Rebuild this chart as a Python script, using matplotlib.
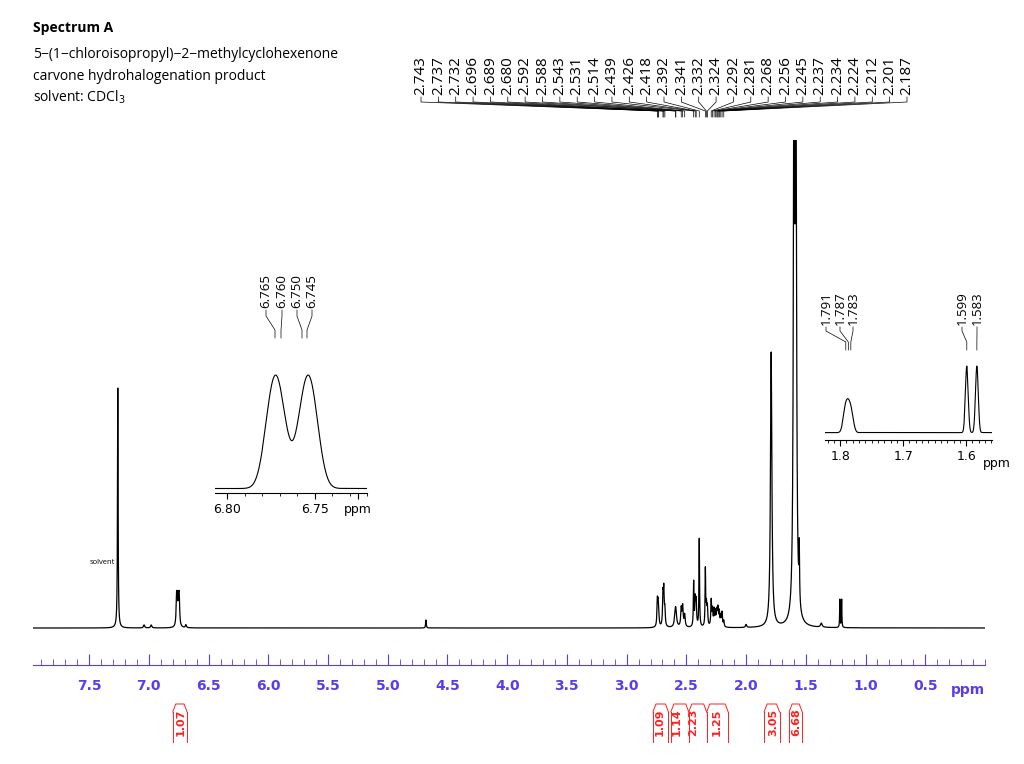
import numpy as np
import matplotlib
matplotlib.use("Agg")
import matplotlib.pyplot as plt

W, H = 1024, 764
# peak list: ppm, height (arbitrary), half width (ppm)
peak_ppm = [7.26, 7.04, 6.98, 6.768, 6.762, 6.752, 6.746, 6.69, 4.68,
            2.743, 2.737, 2.732, 2.696, 2.689, 2.680, 2.592, 2.588, 2.543, 2.531, 2.514,
            2.439, 2.426, 2.418, 2.392, 2.341, 2.332, 2.324, 2.292, 2.281, 2.268, 2.256,
            2.245, 2.237, 2.234, 2.224, 2.212, 2.201, 2.187,
            2.00, 1.79, 1.599, 1.583, 1.555, 1.37, 1.215, 1.200]
peak_h = [240, 3, 3, 26, 22, 22, 26, 3, 8,
          24, 18, 12, 30, 34, 16, 12, 10, 18, 20, 12,
          44, 26, 24, 88, 56, 20, 18, 26, 16, 16, 14,
          14, 10, 10, 14, 10, 14, 6,
          3, 275, 560, 560, 55, 4, 28, 28]
peak_w = [0.003, 0.006, 0.006, 0.0045, 0.0045, 0.0045, 0.0045, 0.005, 0.003,
          0.004, 0.004, 0.004, 0.004, 0.004, 0.004, 0.008, 0.008, 0.005, 0.005, 0.005,
          0.003, 0.004, 0.004, 0.0028, 0.0028, 0.004, 0.004, 0.004, 0.004, 0.004, 0.004,
          0.004, 0.004, 0.004, 0.004, 0.004, 0.004, 0.004,
          0.006, 0.007, 0.006, 0.006, 0.003, 0.008, 0.0022, 0.0022]

# insets (gaussian lineshapes)
insetA_ppm = [6.7745, 6.7695, 6.7565, 6.7515]
insetA_h = [48, 40, 40, 48]
insetA_w = [0.0045, 0.0045, 0.0045, 0.0045]
insetB_ppm = [1.792, 1.787, 1.782, 1.599, 1.583]
insetB_h = [22, 22, 18, 72, 72]
insetB_w = [0.0035, 0.0035, 0.0035, 0.0022, 0.0022]

top_labels = ["2.743", "2.737", "2.732", "2.696", "2.689", "2.680", "2.592", "2.588", "2.543",
              "2.531", "2.514", "2.439", "2.426", "2.418", "2.392", "2.341", "2.332", "2.324",
              "2.292", "2.281", "2.268", "2.256", "2.245", "2.237", "2.234", "2.224", "2.212",
              "2.201", "2.187"]
insetA_labels = ["6.765", "6.760", "6.750", "6.745"]
insetB_labels = ["1.791", "1.787", "1.783", "1.599", "1.583"]
integ_ppm = [6.73, 2.72, 2.58, 2.44, 2.25, 1.77, 1.58]
integ_val = ["1.07", "1.09", "1.14", "2.23", "1.25", "3.05", "6.68"]
integ_ranges = [(6.80, 6.68), (2.78, 2.65), (2.63, 2.48), (2.48, 2.33), (2.33, 2.15), (1.85, 1.72), (1.64, 1.53)]


def spec(x, ps, hs, ws):
    y = np.zeros_like(x)
    for p, h, w in zip(ps, hs, ws):
        y += h / (1 + ((x - p) / w) ** 2)
    return y


def gspec(x, ps, hs, ws):
    y = np.zeros_like(x)
    for p, h, w in zip(ps, hs, ws):
        y += h * np.exp(-0.5 * ((x - p) / w) ** 2)
    return y


def fx(px):
    return px / W


def fy(py):
    return 1 - py / H

fig = plt.figure(figsize=(10.24, 7.64), dpi=100)
PPM_L, PPM_R = 7.97, 0.0
X0, X1 = 33, 985


def ppm2px(p):
    return X0 + (PPM_L - p) / (PPM_L - PPM_R) * (X1 - X0)

# main spectrum
ax = fig.add_axes([fx(X0), fy(640), fx(X1 - X0), (640 - 140) / H])
x = np.linspace(PPM_R, PPM_L, 40000)
y = spec(x, peak_ppm, peak_h, peak_w)
ax.plot(x, y, color="black", lw=0.9)
ax.set_xlim(PPM_L, PPM_R)
ax.set_ylim(-12, 488)
ax.axis("off")
ax.text(7.28, 62, "solvent", ha="right", va="bottom", fontsize=5.5, family="Open Sans")

# ppm axis
ax2 = fig.add_axes([fx(X0), fy(665), fx(X1 - X0), 0.001])
ax2.set_xlim(PPM_L, PPM_R)
ax2.set_yticks([])
blue = "#5a3cf0"
for s in ["left", "right", "top"]:
    ax2.spines[s].set_visible(False)
ax2.spines["bottom"].set_color(blue)
ax2.set_xticks(np.arange(0.5, 7.6, 0.5))
ax2.set_xticklabels([f"{v:.1f}" for v in np.arange(0.5, 7.6, 0.5)])
ax2.set_xticks(np.arange(0.0, 7.95, 0.1), minor=True)
ax2.tick_params(axis="x", which="major", direction="in", length=8, color=blue, labelcolor=blue,
                labelsize=10, pad=10)
ax2.tick_params(axis="x", which="minor", direction="in", length=4, color=blue)
for t in ax2.get_xticklabels():
    t.set_fontweight("bold")
fig.text(fx(968), fy(690), "ppm", color=blue, fontsize=10, fontweight="bold", ha="center", va="center")

# integrals
red = "#ff2020"
for p, v, (a, b) in zip(integ_ppm, integ_val, integ_ranges):
    xa, xb, xc = ppm2px(a), ppm2px(b), ppm2px(p)
    for xe in (xa, xb):
        fig.add_artist(plt.Line2D([fx(xe), fx(xe)], [fy(712), fy(742)], color=red, lw=0.7))
    fig.add_artist(plt.Line2D([fx(xa), fx(xa + 3), fx(xb - 3), fx(xb)], [fy(712), fy(704), fy(704), fy(712)],
                              color=red, lw=0.7))
    fig.text(fx(xc), fy(722), v, color=red, rotation=90, fontsize=8, fontweight="bold",
             ha="center", va="center")

# top labels
n = len(top_labels)
lx = np.linspace(421, 907, n)
for i, lab in enumerate(top_labels):
    pk = ppm2px(float(lab))
    fig.text(fx(lx[i]), fy(95), lab, rotation=90, fontsize=11, ha="center", va="bottom", family="Open Sans")
    fig.add_artist(plt.Line2D([fx(lx[i]), fx(lx[i]), fx(pk), fx(pk)],
                              [fy(97), fy(102), fy(111), fy(117)], color="black", lw=0.5))

# inset A
axA = fig.add_axes([fx(215), fy(493), fx(152), (493 - 355) / H])
xa_ = np.linspace(6.72, 6.807, 3000)
axA.plot(xa_, gspec(xa_, insetA_ppm, insetA_h, insetA_w) + 3, color="black", lw=0.8)
axA.set_xlim(6.807, 6.72)
axA.set_ylim(0, 92)
for s in ["left", "right", "top"]:
    axA.spines[s].set_visible(False)
axA.set_yticks([])
axA.set_xticks([6.80, 6.75, 6.725])
axA.set_xticklabels(["6.80", "6.75", "ppm"])
axA.set_xticks(np.arange(6.72, 6.81, 0.01), minor=True)
axA.tick_params(labelsize=9, length=4)
axA.tick_params(which="minor", length=2)
ax_lx = [266, 282, 297, 312]
for lab, lxx, pk in zip(insetA_labels, ax_lx, [275, 281, 302, 307]):
    fig.text(fx(lxx), fy(308), lab, rotation=90, fontsize=9.5, ha="center", va="bottom", family="Open Sans")
    fig.add_artist(plt.Line2D([fx(lxx), fx(lxx), fx(pk), fx(pk)],
                              [fy(310), fy(316), fy(330), fy(338)], color="black", lw=0.5))

# inset B
axB = fig.add_axes([fx(825), fy(440), fx(167), (440 - 355) / H])
xb_ = np.linspace(1.559, 1.824, 3000)
axB.plot(xb_, gspec(xb_, insetB_ppm, insetB_h, insetB_w) + 8, color="black", lw=0.8)
axB.set_xlim(1.824, 1.559)
axB.set_ylim(0, 92)
for s in ["left", "right", "top"]:
    axB.spines[s].set_visible(False)
axB.set_yticks([])
axB.set_xticks([1.8, 1.7, 1.6])
axB.set_xticklabels(["1.8", "1.7", "1.6"])
axB.set_xticks(np.arange(1.56, 1.83, 0.01), minor=True)
axB.tick_params(labelsize=9, length=4)
axB.tick_params(which="minor", length=2)
fig.text(fx(997), fy(463), "ppm", fontsize=9, ha="center", va="center")
bx_lx = [826, 840, 853, 962, 977]
for lab, lxx in zip(insetB_labels, bx_lx):
    pk = 825 + (1.824 - float(lab)) / 0.265 * 167
    fig.text(fx(lxx), fy(325), lab, rotation=90, fontsize=9.5, ha="center", va="bottom", family="Open Sans")
    fig.add_artist(plt.Line2D([fx(lxx), fx(lxx), fx(pk), fx(pk)],
                              [fy(327), fy(331), fy(342), fy(350)], color="black", lw=0.5))

# header
fig.text(fx(33), fy(28), "Spectrum A", fontsize=10, fontweight="bold", va="center", family="Open Sans")
fig.text(fx(33), fy(55), "5\u2212(1\u2212chloroisopropyl)\u22122\u2212methylcyclohexenone", fontsize=10,
         va="center", family="Open Sans")
fig.text(fx(33), fy(76), "carvone hydrohalogenation product", fontsize=10, va="center", family="Open Sans")
fig.text(fx(33), fy(97), "solvent: CDCl$_3$", fontsize=10, va="center", family="Open Sans")

fig.savefig("out.png", dpi=100)
